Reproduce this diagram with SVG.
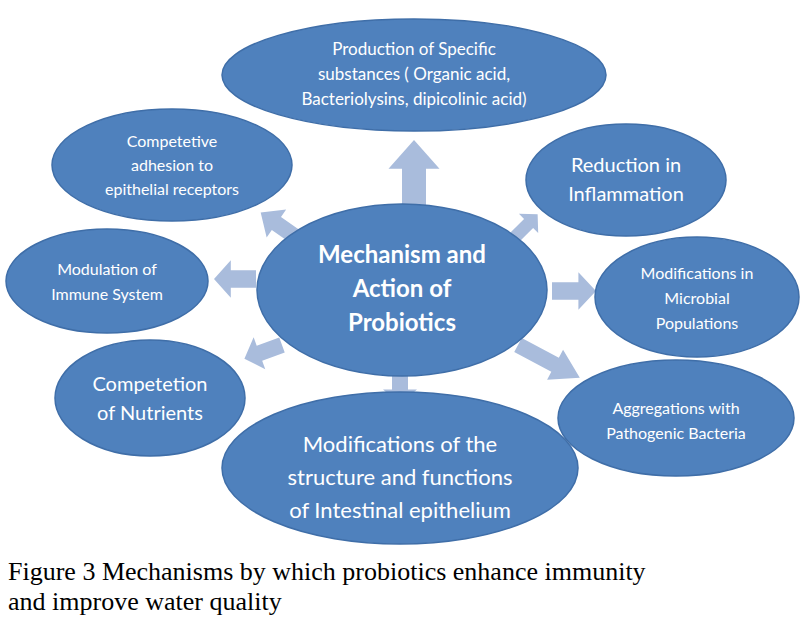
<svg xmlns="http://www.w3.org/2000/svg" width="800" height="621" viewBox="0 0 800 621">
<style>
.n{fill:#4f81bd;stroke:#3f6ea8;stroke-width:1.5}
.t{fill:#fff;font-family:Lato,"Open Sans",sans-serif;text-anchor:middle}
.a{fill:#a9bcdc}
.cap{font-family:"Liberation Serif",serif;font-size:26px;fill:#000}
</style>
<defs>
<path id="ar" d="M0,-8 L24,-8 L24,-17 L40,0 L24,17 L24,8 L0,8 Z"/>
</defs>
<rect width="800" height="621" fill="#fff"/>
<g id="connectors" class="a">
<use href="#ar" transform="translate(414,212) rotate(-90) scale(1.8,1.5)"/>
<use href="#ar" transform="translate(300,240) rotate(-145) scale(1.2,1)"/>
<use href="#ar" transform="translate(515,237) rotate(-45) scale(0.8,0.8)"/>
<use href="#ar" transform="translate(256,279) rotate(180) scale(1.05,1.1)"/>
<use href="#ar" transform="translate(552,291) scale(1.1,1.1)"/>
<use href="#ar" transform="translate(282,345) rotate(160) scale(1,1)"/>
<use href="#ar" transform="translate(518,345) rotate(28) scale(1.75,1)"/>
<use href="#ar" transform="translate(400,368) rotate(90) scale(0.9,1)"/>
</g>
<g id="top"><ellipse class="n" cx="414" cy="75" rx="192" ry="56"/>
<text class="t" font-size="17"><tspan x="414" y="55">Production of Specific</tspan><tspan x="414" y="80">substances   ( Organic acid,</tspan><tspan x="414" y="105">Bacteriolysins, dipicolinic acid)</tspan></text></g>
<g id="adhesion"><ellipse class="n" cx="172" cy="165" rx="120" ry="56"/>
<text class="t" font-size="16"><tspan x="172" y="147">Competetive</tspan><tspan x="172" y="171">adhesion to</tspan><tspan x="172" y="195">epithelial receptors</tspan></text></g>
<g id="inflammation"><ellipse class="n" cx="626" cy="180" rx="100" ry="56"/>
<text class="t" font-size="20"><tspan x="626" y="172">Reduction in</tspan><tspan x="626" y="201">Inflammation</tspan></text></g>
<g id="modulation"><ellipse class="n" cx="107" cy="281" rx="101" ry="52"/>
<text class="t" font-size="16"><tspan x="107" y="275">Modulation of</tspan><tspan x="107" y="300">Immune System</tspan></text></g>
<g id="center"><ellipse class="n" cx="402" cy="290" rx="145" ry="86"/>
<text class="t" font-size="24" font-weight="bold"><tspan x="402" y="263">Mechanism and</tspan><tspan x="402" y="297">Action of</tspan><tspan x="402" y="331">Probiotics</tspan></text></g>
<g id="microbial"><ellipse class="n" cx="697" cy="297" rx="102" ry="60"/>
<text class="t" font-size="16"><tspan x="697" y="279">Modifications in</tspan><tspan x="697" y="304">Microbial</tspan><tspan x="697" y="329">Populations</tspan></text></g>
<g id="nutrients"><ellipse class="n" cx="150" cy="398" rx="95" ry="58"/>
<text class="t" font-size="20"><tspan x="150" y="391">Competetion</tspan><tspan x="150" y="420">of Nutrients</tspan></text></g>
<g id="aggregations"><ellipse class="n" cx="676" cy="418" rx="118" ry="58"/>
<text class="t" font-size="16"><tspan x="676" y="414">Aggregations with</tspan><tspan x="676" y="439">Pathogenic Bacteria</tspan></text></g>
<g id="bottom"><ellipse class="n" cx="400" cy="468" rx="178" ry="76"/>
<text class="t" font-size="22"><tspan x="400" y="452">Modifications of the</tspan><tspan x="400" y="485">structure and functions</tspan><tspan x="400" y="518">of Intestinal epithelium</tspan></text></g>
<text class="cap" x="8" y="580">Figure 3 Mechanisms by which probiotics enhance immunity</text>
<text class="cap" x="8" y="610">and improve water quality</text>
</svg>
